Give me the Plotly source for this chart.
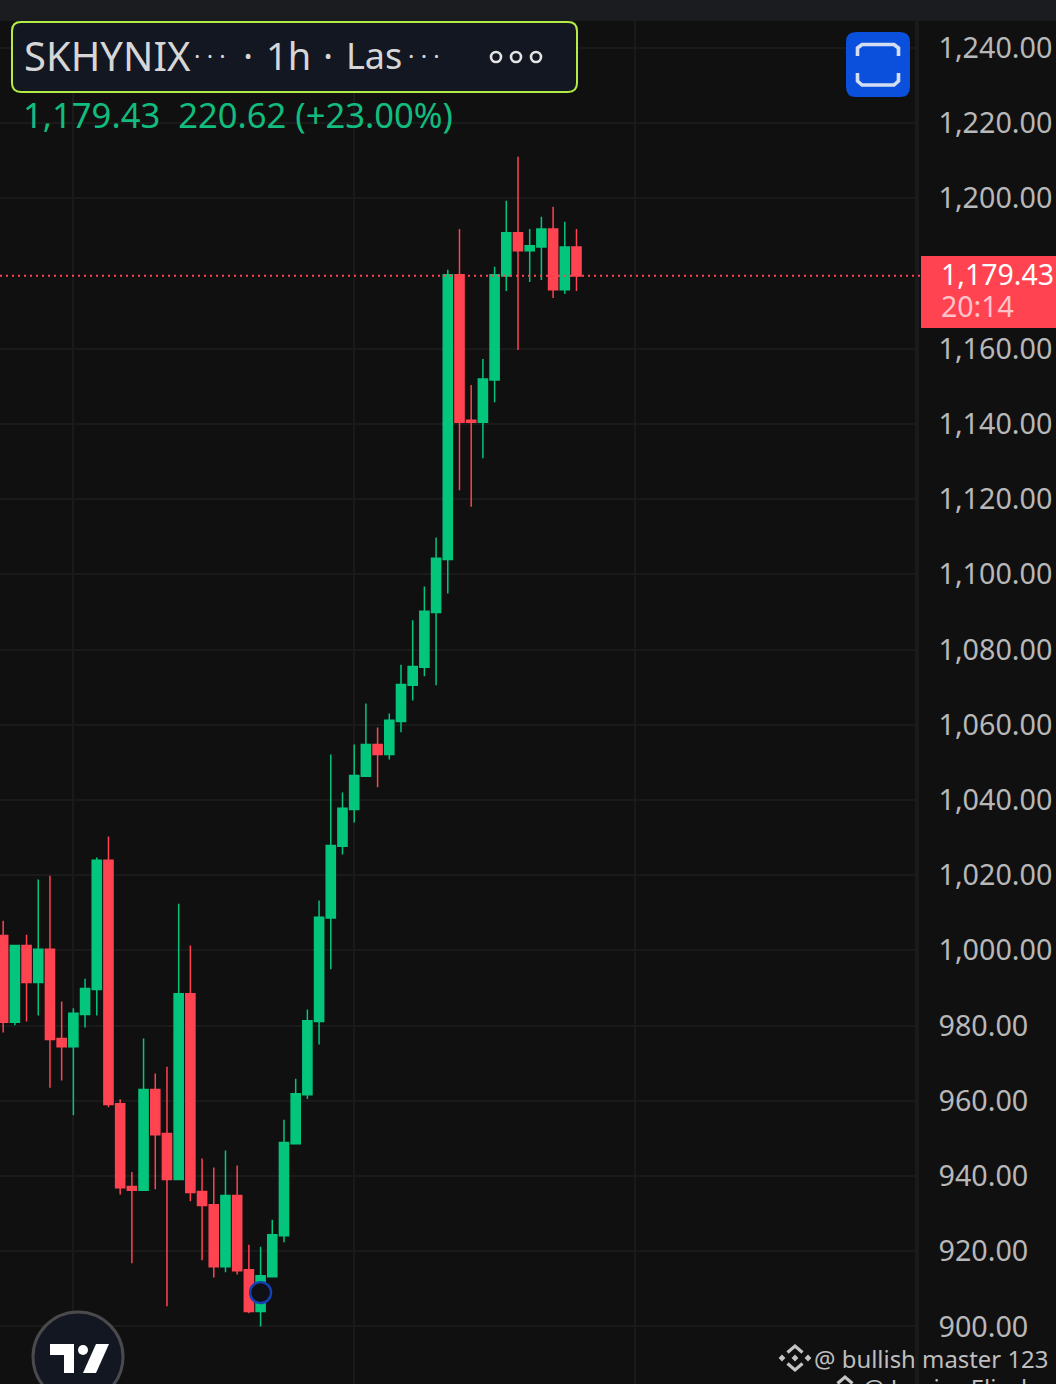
import plotly.graph_objects as go

W, H = 1056, 1384
candle_index = list(range(50))
opens = [1004.0,980.9,1001.3,991.5,1000.3,976.6,974.4,983.0,989.6,1024.0,
         959.2,937.2,936.2,963.0,951.3,939.1,988.5,935.9,932.4,915.9,
         934.8,915.1,904.0,913.2,924.1,948.6,961.6,981.1,1008.6,1027.7,
         1037.5,1046.3,1054.8,1052.1,1060.9,1070.5,1075.3,1089.9,1104.0,1179.7,
         1141.0,1140.5,1151.7,1179.4,1190.9,1186.1,1187.1,1191.9,1175.7,1187.1]
highs = [1007.9,1001.5,1004.2,1018.9,1019.9,986.4,984.6,992.5,1024.7,1030.3,
         960.4,941.1,976.6,967.3,969.1,1012.4,1001.3,944.7,942.3,946.8,
         942.8,921.7,921.2,928.4,955.0,965.9,984.3,1013.3,1052.1,1042.0,
         1054.8,1065.7,1059.3,1063.0,1076.0,1087.8,1096.8,1109.8,1181.0,1191.9,
         1150.4,1157.3,1181.8,1199.4,1211.1,1191.9,1195.1,1197.8,1193.8,1191.9]
lows = [978.2,980.1,981.1,982.7,963.5,965.4,956.2,979.5,982.7,958.3,
        935.1,916.8,936.2,936.5,905.4,939.1,933.3,917.6,913.0,914.4,
        913.8,903.5,900.0,913.0,922.4,948.6,960.5,975.0,995.0,1025.5,
        1034.0,1046.3,1043.4,1050.8,1058.0,1066.5,1072.9,1070.5,1094.9,1122.4,
        1118.0,1130.9,1145.8,1175.4,1159.7,1177.8,1178.3,1173.5,1174.6,1175.4]
closes = [980.9,1001.3,991.5,1000.3,976.3,974.4,983.3,989.9,1024.0,959.0,
          936.9,936.2,963.0,951.0,939.1,988.5,935.6,932.2,915.9,934.8,
          914.8,904.0,913.5,924.4,948.9,961.9,981.3,1008.8,1027.9,1037.8,
          1046.5,1054.8,1052.1,1061.2,1070.7,1075.5,1090.2,1104.3,1179.7,1140.5,
          1140.5,1152.0,1179.7,1190.9,1186.1,1187.4,1191.9,1175.7,1187.1,1179.4]
price_ticks = [900,920,940,960,980,1000,1020,1040,1060,1080,1100,1120,1140,1160,1200,1220,1240]
time_ticks = [6, 30, 54, 78]
last_price = 1179.43
marker_index = [22]
marker_price = [909]

UP, DOWN = "#04C57C", "#FF4351"
BG = "#101011"


def px(x):
    return x / W


def py(y):
    return 1 - y / H


def path(points, close=False):
    body = " L ".join(f"{px(x):.5f},{py(y):.5f}" for x, y in points)
    return "M " + body + (" Z" if close else "")


def rrect(x0, y0, x1, y1, r):
    a, b = px(x0), px(x1)
    c, d = py(y0), py(y1)
    rx, ry = px(r), r / H
    return (f"M {a+rx:.5f},{c:.5f} L {b-rx:.5f},{c:.5f} Q {b:.5f},{c:.5f} {b:.5f},{c-ry:.5f} "
            f"L {b:.5f},{d+ry:.5f} Q {b:.5f},{d:.5f} {b-rx:.5f},{d:.5f} L {a+rx:.5f},{d:.5f} "
            f"Q {a:.5f},{d:.5f} {a:.5f},{d+ry:.5f} L {a:.5f},{c-ry:.5f} Q {a:.5f},{c:.5f} {a+rx:.5f},{c:.5f} Z")


def pshape(d, fill="rgba(0,0,0,0)", color="rgba(0,0,0,0)", width=0):
    return dict(type="path", xref="paper", yref="paper", path=d, fillcolor=fill,
                line=dict(color=color, width=width), layer="above")


def circ(cx, cy, r, fill, color="rgba(0,0,0,0)", width=0):
    return dict(type="circle", xref="paper", yref="paper", x0=px(cx-r), x1=px(cx+r),
                y0=py(cy+r), y1=py(cy-r), fillcolor=fill,
                line=dict(color=color, width=width), layer="above")


def binance(cx, cy, color="#C4C4C4"):
    out = []
    for dx, dy in [(-13, 0), (13, 0), (0, 0)]:
        pts = [(cx+dx-3.4, cy+dy), (cx+dx, cy+dy-3.4), (cx+dx+3.4, cy+dy), (cx+dx, cy+dy+3.4)]
        out.append(pshape(path(pts, True), fill=color))
    out.append(pshape(path([(cx-7.5, cy-5.5), (cx, cy-12), (cx+7.5, cy-5.5)]), color=color, width=3.2))
    out.append(pshape(path([(cx-7.5, cy+5.5), (cx, cy+12), (cx+7.5, cy+5.5)]), color=color, width=3.2))
    return out


def text(s, x, y, size, color, family="Noto Sans"):
    return dict(text=s, xref="paper", yref="paper", x=px(x), y=py(y), xanchor="left", yanchor="middle",
                showarrow=False, font=dict(family=family, size=size, color=color), borderpad=0,
                borderwidth=0, align="left")


fig = go.Figure()
fig.add_trace(go.Candlestick(
    x=candle_index, open=opens, high=highs, low=lows, close=closes,
    increasing=dict(line=dict(color=UP, width=1.5), fillcolor=UP),
    decreasing=dict(line=dict(color=DOWN, width=1.5), fillcolor=DOWN),
    whiskerwidth=0, showlegend=False))
fig.add_trace(go.Scatter(
    x=marker_index, y=marker_price, mode="markers", showlegend=False,
    marker=dict(size=21, color="#0F1116", line=dict(color="#1340B5", width=2.4))))

shapes = [
    dict(type="rect", xref="paper", yref="paper", x0=0, x1=1, y0=py(21), y1=1,
         fillcolor="#1A1C1F", line=dict(width=0), layer="above"),
    dict(type="line", xref="paper", yref="y", x0=0, x1=px(921), y0=last_price, y1=last_price,
         line=dict(color=DOWN, width=2, dash="2px,4px"), layer="above"),
    dict(type="rect", xref="paper", yref="paper", x0=px(921), x1=1, y0=py(328), y1=py(256),
         fillcolor="#FF4351", line=dict(width=0), layer="above"),
    pshape(rrect(12, 22, 577, 92, 9), fill="#131722", color="#B2EC44", width=2),
    circ(496, 57, 5, "rgba(0,0,0,0)", "#E4E4E4", 2.6),
    circ(516, 57, 5, "rgba(0,0,0,0)", "#E4E4E4", 2.6),
    circ(536, 57, 5, "rgba(0,0,0,0)", "#E4E4E4", 2.6),
    pshape(rrect(846, 32, 910, 97, 10), fill="#0A50DC"),
    pshape(path([(857.5, 56), (857.5, 48), (862, 44.5), (894, 44.5), (898.5, 48), (898.5, 56)]),
           color="#D5DDF2", width=3.6),
    pshape(path([(857.5, 73), (857.5, 81), (862, 85), (894, 85), (898.5, 81), (898.5, 73)]),
           color="#D5DDF2", width=3.6),
    circ(78, 1357, 45, "#131722", "#4A4A4C", 3),
    pshape(path([(50, 1344), (74, 1344), (74, 1373), (64, 1373), (64, 1355), (50, 1355)], True), fill="#FFFFFF"),
    pshape(path([(96, 1344), (109, 1344), (96, 1373), (83, 1373)], True), fill="#FFFFFF"),
    circ(83, 1350, 5, "#FFFFFF"),
]
shapes += binance(795, 1358)
shapes += binance(845, 1389)

annotations = [
    text("SKHYNIX", 24, 55, 40, "#D6D6D6"),
    text("· · ·", 194, 55, 24, "#D6D6D6"),
    text("·", 243, 55, 38, "#D6D6D6"),
    text("1h", 266, 55, 38, "#D6D6D6"),
    text("·", 323, 55, 38, "#D6D6D6"),
    text("Las", 346, 55, 36, "#D6D6D6"),
    text("· · ·", 408, 55, 24, "#D6D6D6"),
    text("1,179.43  220.62 (+23.00%)", 22.5, 114, 34.6, "#12BC7E"),
    text("1,179.43", 941, 273.5, 28.5, "#FFFFFF"),
    text("20:14", 941, 305.5, 28.5, "#FFC4C9"),
    text("@ bullish master 123", 814, 1358, 23.9, "#BEBEBE"),
    text("@ Jessica Elizabe", 863, 1388, 23.9, "#BEBEBE"),
]

fig.update_layout(
    width=W, height=H, margin=dict(l=0, r=0, t=0, b=0, pad=0),
    paper_bgcolor=BG, plot_bgcolor=BG, showlegend=False, hovermode=False,
    boxgap=0.22, boxgroupgap=0,
    shapes=shapes, annotations=annotations,
    xaxis=dict(domain=[0, 917/W], range=[-0.27, 78.1], rangeslider=dict(visible=False),
               tickmode="array", tickvals=time_ticks, showticklabels=False, ticks="",
               showgrid=True, gridcolor="#1A1A1B", gridwidth=1.5, zeroline=False, showline=False),
    yaxis=dict(side="right", range=[884.7, 1252.77], tickmode="array", tickvals=price_ticks,
               tickformat=",.2f", ticks="", ticklen=0, ticklabelstandoff=14,
               tickfont=dict(family="Noto Sans", size=28.7, color="#B8B8B8"),
               showgrid=True, gridcolor="#1A1A1B", gridwidth=1.5, zeroline=False,
               showline=True, linecolor="#191919", linewidth=1.5),
)

fig.write_html("out.html", config=dict(displayModeBar=False),
               post_script="document.body.style.margin='0';document.body.style.background='#101011';document.documentElement.style.overflow='hidden';")
